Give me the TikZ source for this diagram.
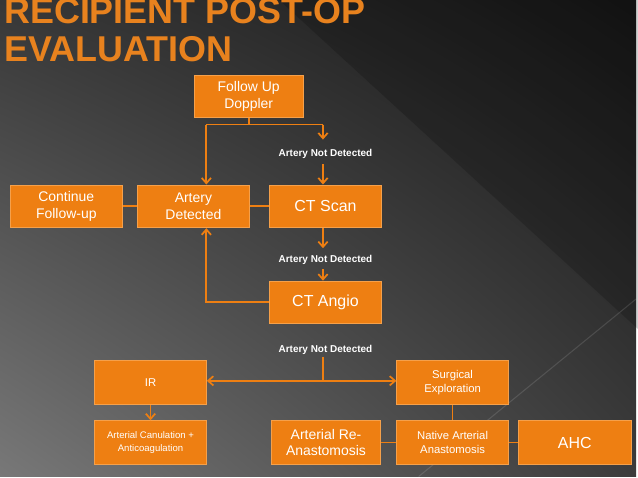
\documentclass[tikz,border=0pt]{standalone}
\usepackage{fontspec}
\setmainfont{Liberation Sans}
\usetikzlibrary{arrows.meta,shadings}
\definecolor{org}{HTML}{EE7F12}
\definecolor{orgb}{HTML}{F5A04A}
\definecolor{ttl}{HTML}{E8821E}
\definecolor{bgll}{RGB}{120,120,120}
\definecolor{bgur}{RGB}{22,22,22}
\definecolor{bgul}{RGB}{55,55,55}
\definecolor{bglr}{RGB}{60,60,60}
\begin{document}
\begin{tikzpicture}[x=0.75pt,y=-0.75pt,
  box/.style={fill=org,draw=orgb,line width=0.6pt,text=white,align=center,inner sep=0pt},
  ln/.style={draw=org,line width=1.3pt},
  arr/.style={ln,-{Straight Barb[length=4pt,width=7pt]}},
  lbl/.style={text=white,font=\bfseries\fontsize{7.5}{9}\selectfont}]
\shade[lower left=bgll,upper right=bgur,upper left=bgul,lower right=bglr] (0,0) rectangle (638,478);
\fill[black,opacity=0.18] (640,0) -- (280,0) -- (640,330) -- cycle;
\draw[white,opacity=0.12,line width=0.8pt] (420,478) -- (638,300);
\useasboundingbox (0,0) rectangle (638,478);
\node[anchor=north west,text=ttl,font=\bfseries\fontsize{27}{29}\selectfont,align=left,inner sep=0pt] (title) at (4,-2) {RECIPIENT POST-OP\\EVALUATION};
\tikzset{bx/.style 2 args={box,minimum width=#1*0.75pt,minimum height=#2*0.75pt}}
\node[bx={109}{42},font=\fontsize{10.5}{12.5}\selectfont] (fud) at (249.5,97) {Follow Up\\Doppler};
\node[bx={113}{43},font=\fontsize{10.5}{12.5}\selectfont] (cont) at (66.5,207) {Continue\\Follow-up};
\node[bx={112}{43},font=\fontsize{10.5}{12.5}\selectfont] (ad) at (194,207) {Artery\\Detected};
\node[bx={113}{43},font=\fontsize{12}{14}\selectfont] (cts) at (326.5,207) {CT Scan};
\node[bx={113}{42},font=\fontsize{12}{14}\selectfont] (cta) at (326.5,303) {CT Angio};
\node[bx={112}{44},font=\fontsize{8.5}{10}\selectfont] (ir) at (151,384) {IR};
\node[bx={112}{44},font=\fontsize{8.5}{10.5}\selectfont] (se) at (454,384) {Surgical\\Exploration};
\node[bx={112}{44},font=\fontsize{7.2}{9.5}\selectfont] (ac) at (151,444) {Arterial Canulation +\\Anticoagulation};
\node[bx={110}{44},font=\fontsize{10.5}{12.5}\selectfont] (ra) at (327,444) {Arterial Re-\\Anastomosis};
\node[bx={112}{44},font=\fontsize{8.5}{10.5}\selectfont] (na) at (454,444) {Native Arterial\\Anastomosis};
\node[bx={113}{44},font=\fontsize{12}{14}\selectfont] (ahc) at (576.5,444) {AHC};
\node[lbl] (l1) at (326.5,154) {Artery Not Detected};
\node[lbl] (l2) at (326.5,261) {Artery Not Detected};
\node[lbl] (l3) at (326.5,351) {Artery Not Detected};
\coordinate (j1) at (207,125);
\coordinate (j2) at (324,125);
\draw[ln] (fud.south) -- (249.5,125);
\draw[ln] (j1) -- (j2);
\draw[arr] (j1) -- (ad.north -| j1);
\draw[arr] (j2) -- (324,140);
\draw[arr] (324,165) -- (cts.north -| j2);
\draw[arr] (cts.south -| j2) -- (324,249);
\draw[arr] (324,270) -- (cta.north -| j2);
\draw[arr] (cta.west) -- (207,303) -- (ad.south -| j1);
\draw[ln] (ad) -- (cont);
\draw[ln] (ad) -- (cts);
\coordinate (j3) at (324,382);
\draw[ln] (324,358) -- (j3);
\draw[ln,{Straight Barb[length=4pt,width=7pt]}-{Straight Barb[length=4pt,width=7pt]}] (ir.east |- j3) -- (se.west |- j3);
\draw[arr] (ir.south) -- (ac.north);
\draw[ln] (se.south) -- (na.north);
\draw[ln] (ra) -- (na);
\draw[ln] (na) -- (ahc);
\end{tikzpicture}
\end{document}
